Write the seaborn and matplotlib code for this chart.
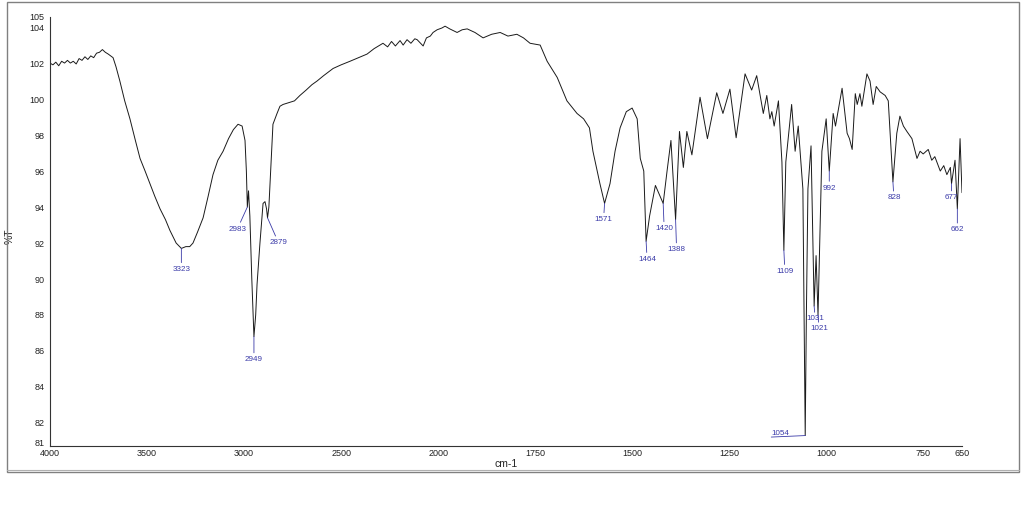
import numpy as np
import pandas as pd
import matplotlib
matplotlib.use("Agg")
import matplotlib.pyplot as plt
import seaborn as sns
from matplotlib.ticker import FixedLocator, FixedFormatter
from matplotlib.patches import Rectangle
from matplotlib.lines import Line2D
from matplotlib.transforms import ScaledTranslation

# ---------------- data ----------------
wavenumber = [
    4000, 3985, 3970, 3955, 3940, 3925, 3910, 3895, 3880, 3865, 3850, 3835, 3820, 3805,
    3790, 3775, 3760, 3745, 3730, 3715, 3700, 3675, 3660, 3640, 3615, 3588, 3560, 3536,
    3510, 3485, 3460, 3433, 3405, 3382, 3350, 3323, 3300, 3280, 3263, 3240, 3211, 3185,
    3160, 3135, 3108, 3080, 3055, 3031, 3010, 2995, 2988, 2983, 2977, 2970, 2960, 2949,
    2940, 2933, 2918, 2902, 2892, 2884, 2879, 2872, 2866, 2858, 2851, 2830, 2815, 2799,
    2770, 2740, 2712, 2680, 2650, 2624, 2590, 2541, 2500, 2454, 2410, 2366, 2330, 2284,
    2260, 2240, 2220, 2196, 2180, 2160, 2140, 2120, 2108, 2090, 2077, 2060, 2040, 2026,
    2005, 1990, 1982, 1970, 1951, 1938, 1925, 1905, 1884, 1862, 1840, 1820, 1797, 1780,
    1763, 1750, 1737, 1719, 1693, 1668, 1642, 1625, 1610, 1601, 1590, 1583, 1571, 1557,
    1544, 1531, 1515, 1500, 1487, 1479, 1470, 1464, 1455, 1440, 1420, 1410, 1400, 1388,
    1378, 1368, 1359, 1346, 1325, 1306, 1282, 1266, 1248, 1232, 1209, 1192, 1179, 1162,
    1153, 1145, 1140, 1134, 1123, 1114, 1109, 1104, 1089, 1080, 1072, 1060, 1057, 1054,
    1051, 1047, 1039, 1031, 1026, 1021, 1011, 1000, 992, 982, 976, 959, 946, 940,
    933, 925, 920, 913, 908, 895, 887, 879, 871, 861, 848, 840, 828, 818,
    810, 801, 792, 779, 766, 758, 750, 737, 728, 720, 706, 697, 689, 680,
    677, 668, 662, 655, 650,
]
transmittance = [
    102.0, 101.9, 102.05, 101.85, 102.1, 102.0, 102.15, 102.0, 102.1, 101.95, 102.25, 102.15, 102.35, 102.2,
    102.4, 102.3, 102.55, 102.6, 102.75, 102.6, 102.5, 102.3, 101.8, 101.0, 99.9, 98.9, 97.7, 96.7,
    96.0, 95.3, 94.6, 93.9, 93.3, 92.7, 92.0, 91.7, 91.8, 91.8, 92.0, 92.6, 93.4, 94.6,
    95.8, 96.6, 97.1, 97.8, 98.3, 98.6, 98.5, 97.7, 96.0, 94.0, 94.9, 93.5, 90.0, 86.8,
    88.0, 89.7, 92.0, 94.2, 94.3, 93.9, 93.4, 94.0, 95.3, 97.0, 98.6, 99.2, 99.6, 99.7,
    99.8, 99.9, 100.2, 100.5, 100.8, 101.0, 101.3, 101.7, 101.9, 102.1, 102.3, 102.5, 102.8, 103.1,
    102.9, 103.2, 102.95, 103.25, 103.0, 103.3, 103.1, 103.35, 103.3, 103.1, 102.95, 103.4, 103.5, 103.7,
    103.85, 103.95, 104.05, 103.9, 103.7, 103.85, 103.9, 103.7, 103.4, 103.6, 103.7, 103.5, 103.6, 103.4,
    103.1, 103.05, 103.0, 102.1, 101.2, 99.9, 99.2, 98.9, 98.4, 97.1, 96.0, 95.3, 94.2, 95.3,
    97.1, 98.4, 99.3, 99.5, 98.9, 96.7, 96.0, 92.1, 93.5, 95.2, 94.2, 96.0, 97.7, 93.3,
    98.2, 96.2, 98.2, 96.9, 100.1, 97.8, 100.35, 99.2, 100.55, 97.85, 101.4, 100.5, 101.3, 99.2,
    100.2, 98.9, 99.3, 98.5, 99.9, 96.5, 91.6, 96.5, 99.7, 97.1, 98.5, 95.0, 88.0, 81.3,
    88.0, 95.0, 97.4, 88.5, 91.3, 88.0, 97.1, 98.9, 96.0, 99.2, 98.5, 100.6, 98.1, 97.8,
    97.2, 100.3, 99.7, 100.3, 99.6, 101.4, 101.0, 99.7, 100.7, 100.4, 100.2, 99.9, 95.4, 98.1,
    99.05, 98.5, 98.2, 97.8, 96.7, 97.1, 96.95, 97.2, 96.6, 96.8, 96.0, 96.3, 95.8, 96.2,
    95.3, 96.6, 93.9, 97.8, 94.8,
]
peak_wn = [3323, 2983, 2949, 2879, 1571, 1464, 1420, 1388, 1109, 1054, 1031, 1021, 992, 828, 677, 662]
peak_labels = [str(p) for p in peak_wn]
x_ticks = [4000, 3500, 3000, 2500, 2000, 1750, 1500, 1250, 1000, 750, 650]
y_ticks = [80.72, 82, 84, 86, 88, 90, 92, 94, 96, 98, 100, 102, 104, 104.56]
y_tick_labels = ["81", "82", "84", "86", "88", "90", "92", "94", "96", "98", "100", "102", "104", "105"]

# label offsets in pixels (layout)
label_offsets = [(0, -21), (-10, -22), (0, -23), (11, -25), (-1, -16), (1, -18), (1, -25), (1, -30),
                 (1, -21), (-25, 2), (1, -13), (1, -14), (0, -17), (1, -16), (0, -14), (0, -21)]

df = pd.DataFrame({"wn": wavenumber, "T": transmittance})

# ---------------- figure ----------------
sns.set_theme(style="white")
plt.rcParams["font.family"] = ["Liberation Sans", "DejaVu Sans"]

fig = plt.figure(figsize=(10.24, 5.09), dpi=100)
fig.patch.set_facecolor("white")
ax = fig.add_axes([50 / 1024, 1 - 446 / 509, 912 / 1024, 429 / 509])
ax.set_facecolor("white")


def fwd(w):
    w = np.asarray(w, dtype=float)
    return np.where(w >= 2000, w, 2 * w - 2000)


def inv(u):
    u = np.asarray(u, dtype=float)
    return np.where(u >= 2000, u, (u + 2000) / 2)


ax.set_xscale("function", functions=(fwd, inv))

sns.lineplot(data=df, x="wn", y="T", ax=ax, estimator=None, sort=False,
             color="#1a1a1a", linewidth=0.7)

ax.set_xlim(4000, 650)
ax.set_ylim(80.72, 104.56)

ax.xaxis.set_major_locator(FixedLocator(x_ticks))
ax.xaxis.set_major_formatter(FixedFormatter([str(t) for t in x_ticks]))
ax.xaxis.set_minor_locator(FixedLocator([]))
ax.yaxis.set_major_locator(FixedLocator(y_ticks))
ax.yaxis.set_major_formatter(FixedFormatter(y_tick_labels))

for s in ["top", "right"]:
    ax.spines[s].set_visible(False)
for s in ["left", "bottom"]:
    ax.spines[s].set_color("#333333")
    ax.spines[s].set_linewidth(0.8)

ax.tick_params(axis="x", direction="in", length=3, width=0.7, colors="#333333",
               labelsize=6.5, pad=2, labelcolor="#222222")
ax.tick_params(axis="y", direction="out", length=3, width=0.7, colors="#333333",
               labelsize=6.5, pad=1, labelcolor="#222222")
ax.set_xlabel("cm-1", fontsize=7.5, color="#222222", labelpad=1)
ax.set_ylabel("%T", fontsize=7.5, color="#222222")
ax.yaxis.set_label_coords(-35 / 912, 0.49)

# nudge the bottom y label up a little so it clears the first x label
fig.canvas.draw()
ylabs = ax.get_yticklabels()
ylabs[0].set_transform(ylabs[0].get_transform() + ScaledTranslation(0, 3 / 100, fig.dpi_scale_trans))
ylabs[-1].set_transform(ylabs[-1].get_transform() + ScaledTranslation(0, 1 / 100, fig.dpi_scale_trans))

blue = "#3a3aa8"
for wn, lab, (dx, dy) in zip(peak_wn, peak_labels, label_offsets):
    t = float(np.interp(wn, wavenumber[::-1], transmittance[::-1]))
    props = dict(arrowstyle="-", color=blue, lw=0.6, shrinkA=0, shrinkB=0)
    if wn == 1054:
        props["relpos"] = (0.0, 0.0)
        props["patchA"] = None
    ax.annotate(lab, xy=(wn, t), xytext=(dx, dy), textcoords="offset pixels",
                ha="center", va="center", fontsize=5.8, color=blue,
                arrowprops=props, annotation_clip=False)

# outer frame
fig.add_artist(Rectangle((7 / 1024, 1 - 472 / 509), 1012 / 1024, 470 / 509,
                         transform=fig.transFigure, fill=False,
                         edgecolor="#808080", linewidth=1.0))
fig.add_artist(Line2D([7 / 1024, 1019 / 1024], [1 - 470 / 509, 1 - 470 / 509],
                      transform=fig.transFigure, color="#b0b0b0", linewidth=0.8))

fig.savefig("out.png", dpi=100, facecolor="white")
